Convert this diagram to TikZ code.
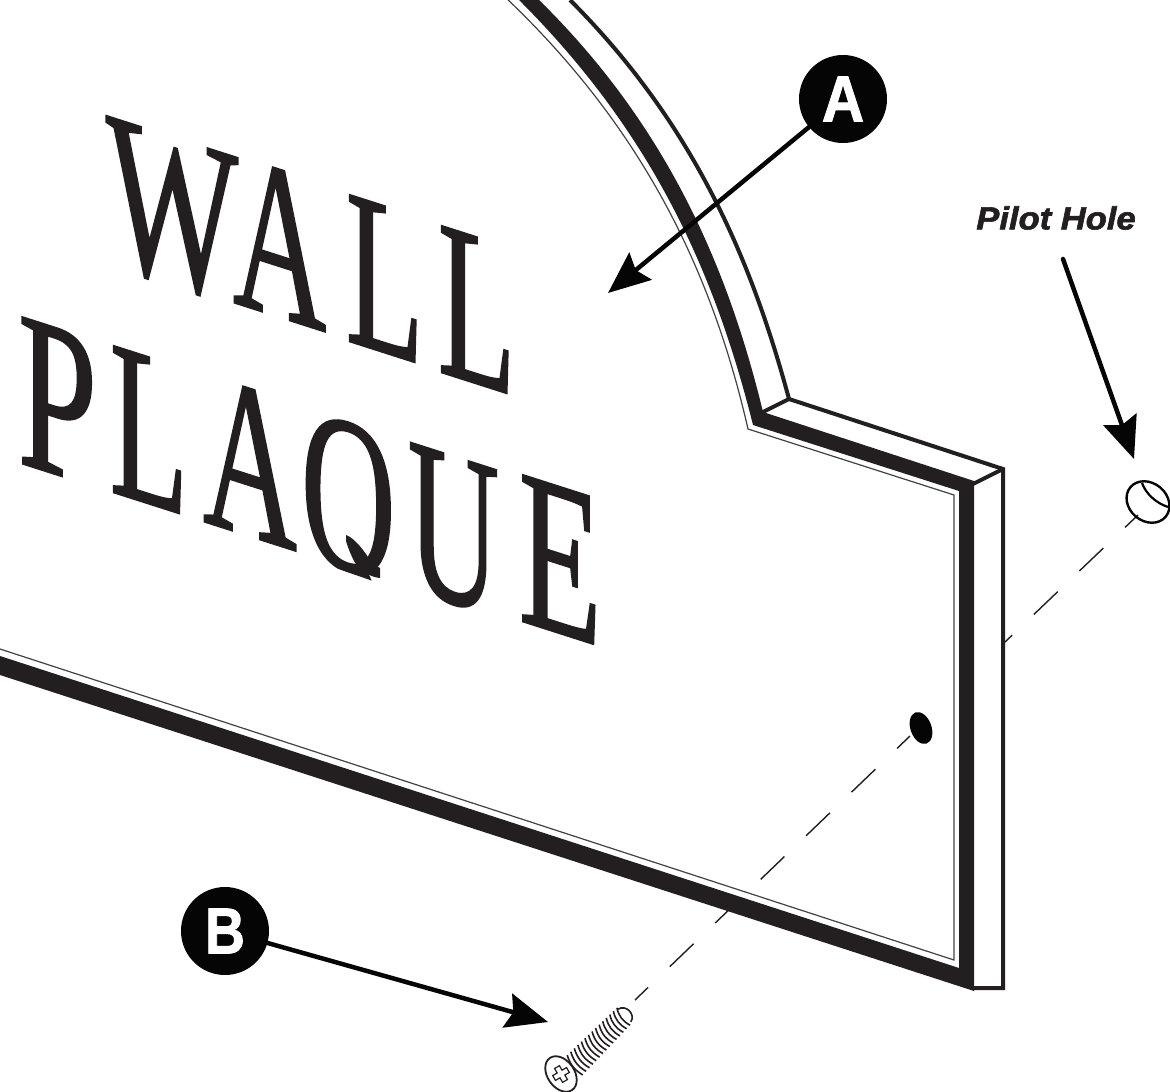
\documentclass[tikz,border=0pt]{standalone}
\usepackage{graphicx}
\usepackage{fontspec}
\setmainfont[FakeBold=1.1]{Liberation Serif}
\newfontfamily\calloutfont[FakeBold=1.5]{Liberation Sans Bold}
\newfontfamily\pilotfont[FakeBold=1.8]{Liberation Sans Bold Italic}
\usetikzlibrary{shapes.geometric, arrows.meta, calc}
\definecolor{ink}{RGB}{35,31,32}
\definecolor{solid}{RGB}{5,5,5}
\tikzstyle{letter} = [anchor=base west, inner sep=0pt, outer sep=0pt, text=ink, yslant=-0.32, font=\fontsize{100}{100}\selectfont]
\tikzstyle{callout} = [circle, fill=solid, minimum size=88pt, inner sep=0pt, text=white, font=\calloutfont\fontsize{65}{65}\selectfont]
\tikzstyle{pointer} = [line width=4.5pt, color=solid, line cap=round, -{Stealth[length=42pt,width=35pt,inset=6pt]}]
\tikzstyle{rim} = [ink, line width=4pt, miter limit=10]
\tikzstyle{hairline} = [ink!85, line width=1.2pt, miter limit=10]
\tikzstyle{axisline} = [ink, line width=1.4pt, dash pattern=on 33pt off 30pt, dash phase=15pt]
\begin{document}
\begin{tikzpicture}[x=1pt, y=-1pt]
\useasboundingbox (0,0) rectangle (1170,1092);
\fill[white] (0,0) rectangle (1170,1092);

% Plaque face
\draw [hairline] (505,-3) .. controls (640,125) and (711,267) .. (748,429) -- (954,495) -- (954,960) -- (0,649);
\fill [ink] (517,-2) .. controls (648,128) and (713,265) .. (753,425) -- (959,491) -- (959,968) -- (0,656) -- (0,675) -- (974,991) -- (974,481) -- (763,412) .. controls (726,259) and (662,120) .. (537,-2) -- cycle;

% Side edge
\draw [rim] (570,0) .. controls (695,125) and (752,262) .. (789,399) -- (1003,469) -- (1003,988) -- (973,988);
\draw [rim] (763,412) -- (789,399);
\draw [rim] (973,484) -- (1003,469);

% Lettering
\foreach \ch/\lx/\by/\xs in {W/106/262/1.40, A/233/302/1.29, L/346/340/1.27, L/438/371/1.27,
  P/18/462/1.42, L/110/491/1.28, A/203/521/1.30, U/408/588/1.26, E/519/620/1.35}
  \node (letter\lx) [letter, xscale=\xs, yscale=2.23] at (\lx,\by) {\ch};

% Short tail on the Q
\begin{scope}
\clip (290,400) -- (410,400) -- (410,594) -- (290,552) -- cycle;
\node (letterQ) [letter, xscale=1.31, yscale=2.23] at (301,555) {Q};
\end{scope}
\fill [ink] (346,535) .. controls (354,538) and (362,548) .. (368,557) .. controls (371,562) and (375,566) .. (380,568) -- (380,578) .. controls (368,577) and (358,568) .. (354,561) .. controls (351,555) and (348,548) .. (346,541) -- cycle;

% Pilot hole
\node (hole) [ellipse, fill=solid, rotate=20, minimum width=21pt, minimum height=33pt, inner sep=0pt] at (921,728) {};
\draw [axisline] (1138,515) -- (1005,642);
\draw [axisline] (910,736) -- (635,1000);

% Plug
\node (plug) [ellipse, draw=solid, line width=2.4pt, rotate=-40, minimum width=46pt, minimum height=38pt, inner sep=0pt] at (1148,502) {};
\draw [solid, line width=2.2pt] (1142,483) .. controls (1146,494) and (1156,503) .. (1168,507);

% Screw
\begin{scope}[shift={(575,1065)}, rotate=45]
\foreach \i in {0,...,14} {
  \pgfmathsetmacro{\tx}{\i*4.9}
  \pgfmathsetmacro{\hw}{12.5-0.12*\i}
  \draw [ink, line width=1.6pt] (\tx+1.5,-\hw) .. controls (\tx-3,-4) and (\tx-4,3) .. (\tx-1.5,\hw);
}
\draw [ink, line width=1.6pt] (70,-9) .. controls (79,-7) and (79,7) .. (70,9);
\end{scope}
\node (head) [ellipse, draw=ink, fill=white, line width=1.8pt, rotate=-55, minimum width=39pt, minimum height=27pt, inner sep=0pt] at (561,1074) {};
\begin{scope}[shift={(head.center)}, rotate=30]
\draw [ink, line width=1.2pt] (-2.8,-2.8) -- (-2.8,-8) -- (2.8,-8) -- (2.8,-2.8) -- (8,-2.8) -- (8,2.8) -- (2.8,2.8) -- (2.8,8) -- (-2.8,8) -- (-2.8,2.8) -- (-8,2.8) -- (-8,-2.8) -- cycle;
\end{scope}

% Callouts
\node (markA) [callout] at (843,99) {\scalebox{0.9}[1]{A}};
\node (markB) [callout] at (225,931) {\scalebox{0.85}[1]{B}};
\coordinate (tipA) at (608,293);
\coordinate (tipB) at (548,1022);
\draw [pointer] (markA) -- (tipA);
\draw [pointer] (markB) -- (tipB);

% Pilot label
\node (pilot) [inner sep=0pt, xscale=1.08, text=ink, font=\pilotfont\fontsize{32}{32}\selectfont] at (1056,218) {Pilot Hole};
\coordinate (pilotfoot) at (1063,259);
\coordinate (tipP) at (1134,459);
\draw [pointer] (pilotfoot) -- (tipP);
\end{tikzpicture}
\end{document}
